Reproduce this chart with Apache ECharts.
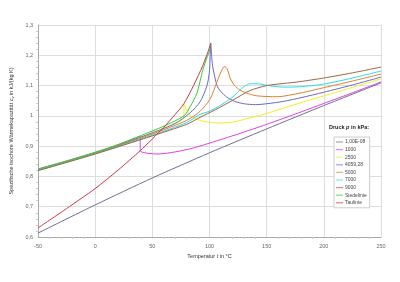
<!DOCTYPE html>
<html><head><meta charset="utf-8">
<script src="https://cdn.jsdelivr.net/npm/echarts@6/dist/echarts.min.js"></script>
<style>html,body{margin:0;padding:0;background:#fff}#c{width:400px;height:282px}</style>
</head><body><div id="c"></div>
<script>
// Data: temperature t in °C, cv in kJ/(kg K)
const seriesNames = ['1,00E-08','1000','2500','4059,28','5000','7000','9000','Siedelinie','Taulinie'];
const xTicks = [-50, 0, 50, 100, 150, 200, 250];
const yTicks = [0.6, 0.7, 0.8, 0.9, 1.0, 1.1, 1.2, 1.3];

const p_ideal = [[-50,0.613],[0,0.706],[50,0.795],[100,0.878],[150,0.957],[200,1.034],[250,1.109]];
const p_1000 = [[-50,0.824],[0,0.879],[20,0.905],[39.4,0.933],[39.4,0.885],[45,0.877],[55,0.874],[70,0.881],[85,0.893],[100,0.910],[125,0.940],[150,0.972],[175,1.006],[200,1.041],[225,1.076],[250,1.112]];
const p_2500 = [[-50,0.823],[0,0.878],[40,0.930],[60,0.960],[77.6,0.995],[77.6,1.038],[82,1.005],[88,0.990],[95,0.982],[105,0.977],[118,0.978],[135,0.993],[150,1.008],[175,1.038],[200,1.066],[225,1.094],[250,1.122]];
const p_4059 = [[-50,0.822],[0,0.877],[50,0.944],[70,0.975],[83,1.010],[91.7,1.046],[97.8,1.100],[100,1.150],[101.06,1.240],[102,1.190],[103,1.158],[106.5,1.100],[110,1.080],[115,1.062],[122,1.048],[130,1.040],[140,1.037],[150,1.040],[165,1.048],[180,1.060],[200,1.078],[225,1.102],[250,1.128]];
const p_5000 = [[-50,0.821],[0,0.876],[50,0.940],[80,0.985],[91.7,1.015],[100.4,1.055],[106.5,1.112],[110,1.145],[113,1.163],[115.5,1.155],[118,1.125],[122,1.100],[126.7,1.085],[134,1.073],[141.5,1.066],[159,1.063],[179,1.075],[200,1.093],[225,1.115],[250,1.138]];
const p_7000 = [[-50,0.820],[0,0.875],[50,0.936],[80,0.978],[91.7,1.005],[100,1.015],[106.5,1.028],[113,1.043],[120.5,1.063],[128,1.090],[135,1.106],[142,1.106],[150,1.101],[164,1.095],[179,1.096],[200,1.105],[225,1.125],[250,1.148]];
const p_9000 = [[-50,0.819],[0,0.874],[50,0.934],[80,0.972],[91.7,0.995],[105,1.020],[120.5,1.052],[135,1.083],[150,1.100],[165,1.107],[179,1.113],[200,1.125],[225,1.142],[250,1.161]];
const sat_liq = [[-50,0.825],[-25,0.851],[0,0.880],[20,0.905],[39.4,0.934],[60,0.966],[77.6,1.000],[83,1.030],[89,1.075],[94,1.150],[98,1.195],[100,1.215],[101.06,1.240]];
const sat_vap = [[-50,0.630],[-25,0.694],[0,0.760],[20,0.821],[39.4,0.885],[60,0.962],[70,1.005],[77.6,1.040],[86,1.100],[94,1.165],[98.5,1.210],[101.06,1.240]];

const allData = [p_ideal,p_1000,p_2500,p_4059,p_5000,p_7000,p_9000,sat_liq,sat_vap];
const colors = ['#707094','#E040E0','#F2F024','#6A6AC8','#E08030','#22E0E0','#A06446','#30D030','#C83A48'];

const fmt = v => String(Math.round(v*10)/10).replace('.', ',');
const FONT = 'Liberation Sans, Arial, sans-serif';

const chart = echarts.init(document.getElementById('c'), null, {renderer:'canvas'});
chart.setOption({
  animation: false,
  backgroundColor: '#fff',
  textStyle: {fontFamily: FONT},
  title: {
    text: '{b|Druck }{bi|p}{b| in kPa:}',
    left: 329, top: 124, padding: 0,
    textStyle: {rich: {
      b: {fontSize: 5.5, fontWeight: 'bold', color: '#222', fontFamily: FONT},
      bi: {fontSize: 5.5, fontWeight: 'bold', fontStyle: 'italic', color: '#222', fontFamily: FONT}
    }}
  },
  legend: {
    orient: 'vertical', left: 334, top: 137,
    data: seriesNames,
    icon: 'rect', itemWidth: 7, itemHeight: 1.2, itemGap: 1.6,
    padding: [2, 3, 2, 2],
    backgroundColor: '#fff', borderColor: '#ccc', borderWidth: 1,
    itemStyle: {opacity: 0.65},
    textStyle: {fontSize: 5, color: '#444', padding: [0,0,0,-3], lineHeight: 6, fontFamily: FONT}
  },
  grid: {left: 38, right: 19, top: 25, bottom: 45, containLabel: false},
  xAxis: {
    type: 'value', min: xTicks[0], max: xTicks[xTicks.length-1], interval: 50,
    name: '{a|Temperatur }{i|t}{a| in °C}',
    nameLocation: 'middle', nameGap: 15,
    nameTextStyle: {rich: {
      a: {fontSize: 5.5, color: '#333', fontFamily: FONT},
      i: {fontSize: 5.5, color: '#333', fontStyle: 'italic', fontFamily: FONT}
    }},
    axisLine: {show: true, onZero: false, lineStyle: {color: '#aaa', width: 1}},
    axisTick: {show: false},
    minorTick: {show: true, splitNumber: 5, length: 2, lineStyle: {color: '#ccc'}},
    splitLine: {show: true, lineStyle: {color: '#ddd', width: 1}},
    axisLabel: {fontSize: 5.5, color: '#666', margin: 6, formatter: v => String(v)}
  },
  yAxis: {
    type: 'value', min: yTicks[0], max: yTicks[yTicks.length-1], interval: 0.1,
    name: '{a|Spezifische isochore Wärmekapazität }{i|c}{s|v}{a| in kJ/(kg K)}',
    nameLocation: 'middle', nameGap: 19, nameRotate: 90,
    nameTextStyle: {rich: {
      a: {fontSize: 5.5, color: '#333', fontFamily: FONT},
      i: {fontSize: 5.5, color: '#333', fontStyle: 'italic', fontFamily: FONT},
      s: {fontSize: 4, color: '#333', fontStyle: 'italic', verticalAlign: 'bottom', padding: [3,0,0,0], fontFamily: FONT}
    }},
    axisLine: {show: true, onZero: false, lineStyle: {color: '#aaa', width: 1}},
    axisTick: {show: false},
    minorTick: {show: true, splitNumber: 5, length: 2, lineStyle: {color: '#ccc'}},
    splitLine: {show: true, lineStyle: {color: '#ddd', width: 1}},
    axisLabel: {fontSize: 5.5, color: '#666', margin: 5, formatter: fmt}
  },
  series: allData.map((d, i) => ({
    name: seriesNames[i], type: 'line', data: d,
    showSymbol: false, symbol: 'none', smooth: 0.25,
    lineStyle: {width: 1, color: colors[i]},
    itemStyle: {color: colors[i]},
    z: 2 + i
  }))
});
</script></body></html>
